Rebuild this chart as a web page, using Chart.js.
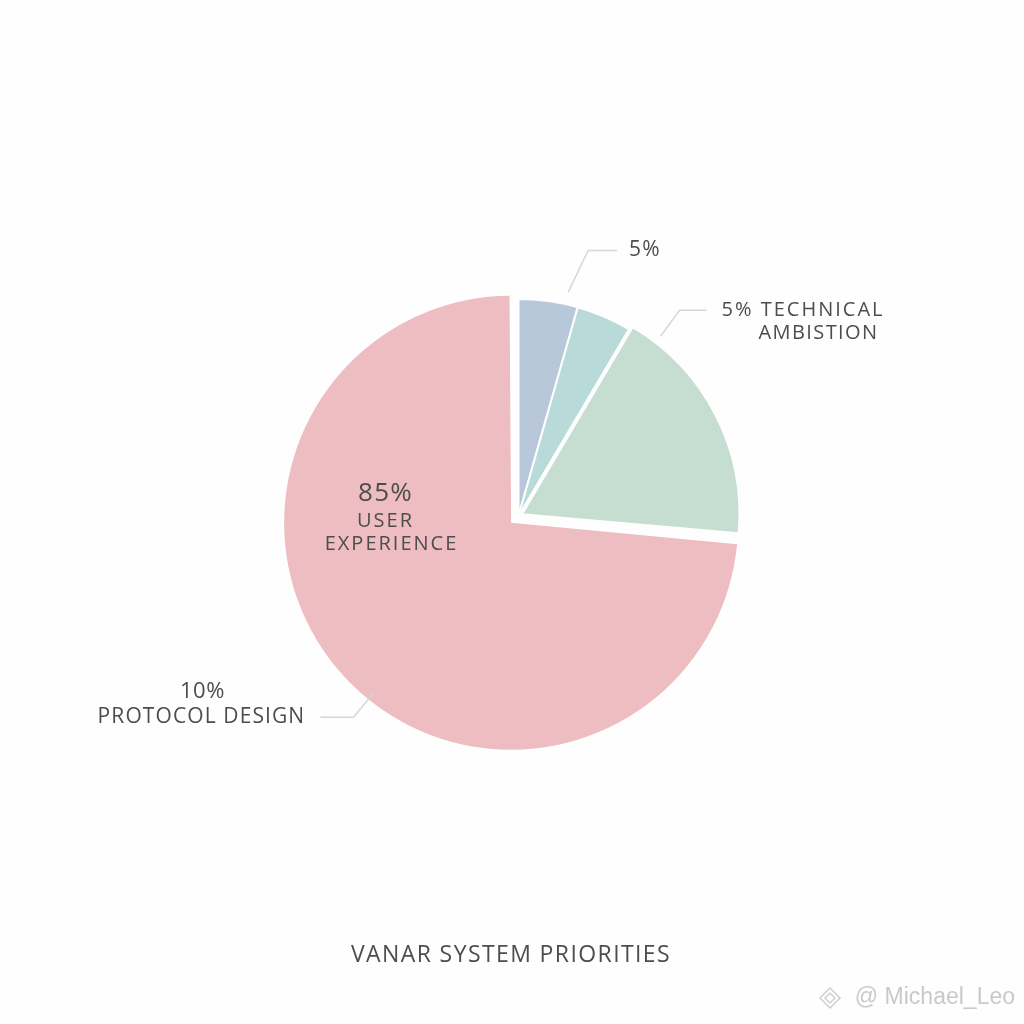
<!DOCTYPE html>
<html>
<head>
<meta charset="utf-8">
<title>Vanar System Priorities</title>
<script src="https://cdn.jsdelivr.net/npm/chart.js@4.4.1/dist/chart.umd.min.js"></script>
<style>
    html, body { margin: 0; padding: 0; background: #fefefe; }
    #wrap { width: 1024px; height: 1024px; }
</style>
</head>
<body>
<div id="wrap"><canvas id="pieChart" width="1024" height="1024"></canvas></div>
<script>
// --- data (clockwise from 12 o'clock) ---
const sliceNames = ['Slate', 'Teal', 'Technical Ambistion', 'User Experience'];
const sliceValues = [4.4, 4.1, 17.9, 73.6];
const sliceColors = ['#b8c7da', '#b8dad8', '#c5ded1', '#edbdc1'];

const chartTitle = 'VANAR SYSTEM PRIORITIES';
const calloutLines = [['5%'], null, ['5% TECHNICAL', 'AMBISTION'], ['10%', 'PROTOCOL DESIGN']];
const innerLines = ['85%', 'USER', 'EXPERIENCE'];
const watermarkText = '@ Michael_Leo';

const TEXT_COLOR = '#4d4d4d';
const LINE_COLOR = '#d6d6d6';
const FONT = '"Open Sans", "Noto Sans", sans-serif';

// point on the outside of slice i, at a fraction of its sweep
function arcPoint(meta, i, frac, extra) {
    const p = meta.data[i].getProps(['x', 'y', 'startAngle', 'endAngle', 'outerRadius'], true);
    const ang = p.startAngle + frac * (p.endAngle - p.startAngle);
    const r = p.outerRadius + extra;
    return { x: p.x + Math.cos(ang) * r, y: p.y + Math.sin(ang) * r, cx: p.x, cy: p.y };
}

function leader(ctx, pts) {
    ctx.beginPath();
    ctx.moveTo(pts[0].x, pts[0].y);
    pts.slice(1).forEach(p => ctx.lineTo(p.x, p.y));
    ctx.stroke();
}

function text(ctx, str, x, y, size, spacing) {
    ctx.font = size + 'px ' + FONT;
    ctx.letterSpacing = spacing + 'px';
    ctx.fillText(str, x, y);
}

const labelPlugin = {
    id: 'sliceLabels',
    afterDraw(chart) {
        const ctx = chart.ctx;
        const meta = chart.getDatasetMeta(0);
        ctx.save();
        ctx.strokeStyle = LINE_COLOR;
        ctx.lineWidth = 1.5;
        ctx.fillStyle = TEXT_COLOR;
        ctx.textBaseline = 'middle';

        // small slice at the top
        let a = arcPoint(meta, 0, 0.79, 12);
        let e = { x: a.x + 20, y: a.y - 42 };
        leader(ctx, [a, e, { x: e.x + 29, y: e.y }]);
        ctx.textAlign = 'left';
        text(ctx, calloutLines[0][0], e.x + 41, e.y, 21, 1);

        // technical ambistion
        a = arcPoint(meta, 2, 0.12, 12);
        e = { x: a.x + 19, y: a.y - 26 };
        leader(ctx, [a, e, { x: e.x + 27, y: e.y }]);
        text(ctx, calloutLines[2][0], e.x + 42, e.y, 20, 2);
        text(ctx, calloutLines[2][1], e.x + 79, e.y + 23, 20, 1.4);

        // protocol design
        a = arcPoint(meta, 3, 0.469, 12);
        e = { x: a.x - 20, y: a.y + 24 };
        leader(ctx, [a, e, { x: e.x - 33, y: e.y }]);
        ctx.textAlign = 'center';
        text(ctx, calloutLines[3][0], e.x - 151, e.y - 25, 22, 0.5);
        text(ctx, calloutLines[3][1], e.x - 152, e.y, 21, 1.1);

        // text inside the big slice
        const cx = a.cx, cy = a.cy;
        text(ctx, innerLines[0], cx - 133, cy - 22, 26, 1.2);
        text(ctx, innerLines[1], cx - 133, cy + 5, 20, 2);
        text(ctx, innerLines[2], cx - 127, cy + 28, 20, 2);

        // title
        text(ctx, chartTitle, 511, 955, 23, 1.4);

        // watermark
        ctx.textAlign = 'right';
        ctx.letterSpacing = '0px';
        ctx.font = '23px "Liberation Sans", Arial, sans-serif';
        ctx.fillStyle = '#c9c9c9';
        ctx.fillText(watermarkText, 1015, 998);
        ctx.strokeStyle = '#cfcfcf';
        ctx.lineWidth = 1.5;
        [10, 5].forEach(s => {
            ctx.beginPath();
            ctx.moveTo(830, 998 - s);
            ctx.lineTo(830 + s, 998);
            ctx.lineTo(830, 998 + s);
            ctx.lineTo(830 - s, 998);
            ctx.closePath();
            ctx.stroke();
        });
        ctx.restore();
    }
};

const ctx = document.getElementById('pieChart');
new Chart(ctx, {
    type: 'pie',
    data: {
        labels: sliceNames,
        datasets: [{
            data: sliceValues,
            backgroundColor: sliceColors,
            borderColor: '#fefefe',
            borderWidth: [2, 2, 2, 0],
            offset: [0, 0, 16, 40]
        }]
    },
    options: {
        responsive: false,
        animation: false,
        radius: 217,
        layout: { padding: { left: 13, top: 8, right: 0, bottom: 0 } },
        plugins: {
            legend: { display: false },
            tooltip: { enabled: false }
        }
    },
    plugins: [labelPlugin]
});
</script>
</body>
</html>
